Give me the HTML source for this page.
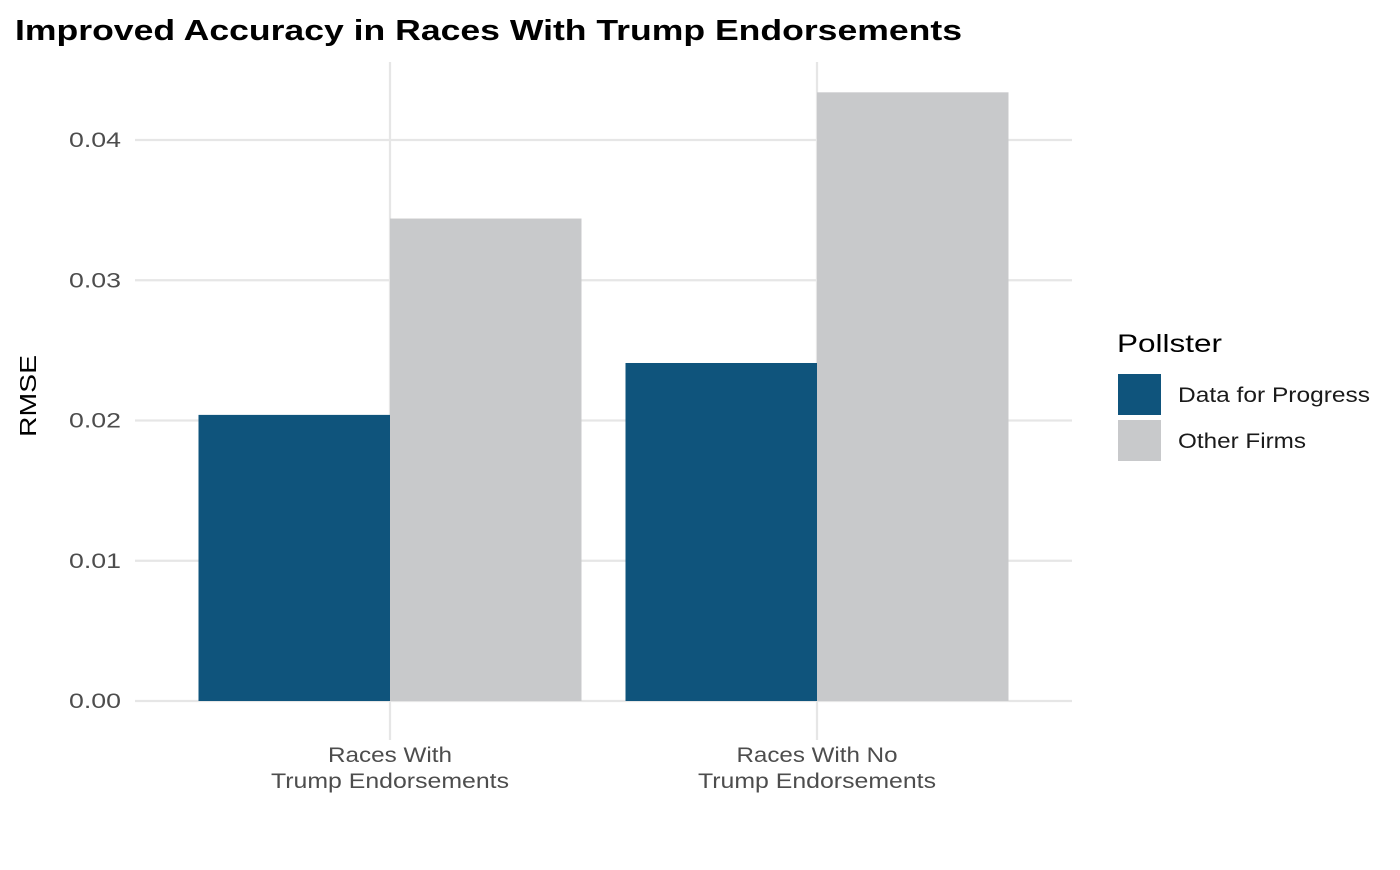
<!DOCTYPE html>
<html><head><meta charset="utf-8"><style>
body{margin:0;background:#fff;font-family:"Liberation Sans",sans-serif;}
</style></head><body>
<svg width="1400" height="865" xmlns="http://www.w3.org/2000/svg" id="svg">
<text x="15" y="40" font-size="29" font-weight="bold" fill="#000" textLength="947" lengthAdjust="spacingAndGlyphs">Improved Accuracy in Races With Trump Endorsements</text>
<g id="grid"></g>
<g id="bars"></g>
<g id="axes"></g>
<text transform="translate(36,396) rotate(-90)" text-anchor="middle" font-size="23" fill="#000" textLength="82" lengthAdjust="spacingAndGlyphs">RMSE</text>
<g>
<text x="1117" y="352" font-size="25" fill="#000" textLength="105" lengthAdjust="spacingAndGlyphs">Pollster</text>
<rect x="1118" y="374" width="43" height="41" fill="#0f547c"/>
<text x="1178" y="402" font-size="21" fill="#1a1a1a" textLength="192" lengthAdjust="spacingAndGlyphs">Data for Progress</text>
<rect x="1118" y="420" width="43" height="41" fill="#c8c9cb"/>
<text x="1178" y="448" font-size="21" fill="#1a1a1a" textLength="128" lengthAdjust="spacingAndGlyphs">Other Firms</text>
</g>
</svg>
<script>
const categories = [["Races With","Trump Endorsements"],["Races With No","Trump Endorsements"]];
const dfpValues = [0.0204, 0.0241];
const otherValues = [0.0344, 0.0434];
const yTicks = [0, 0.01, 0.02, 0.03, 0.04];
const yTickLabels = ["0.00","0.01","0.02","0.03","0.04"];
const NS="http://www.w3.org/2000/svg";
const x0=135,x1=1072,yTop=62,yBot=740;
const y=v=>701-v*14025;
const xc=i=>390+i*427;
const bw=191.5;
const grid=document.getElementById('grid'),bars=document.getElementById('bars'),axes=document.getElementById('axes');
function mk(tag,attrs,parent){const e=document.createElementNS(NS,tag);for(const k in attrs)e.setAttribute(k,attrs[k]);parent.appendChild(e);return e;}
function tl(s){return Math.round(s.length*(s.length>14?13.2:12.4));}
yTicks.forEach((t,i)=>{
  const l=mk('line',{x1:x0,x2:x1,y1:y(t),y2:y(t),stroke:'#e6e6e6','stroke-width':2.2},grid);
  
  
  const tx=mk('text',{x:121,y:y(t)+7,'text-anchor':'end','font-size':21,fill:'#4d4d4d',textLength:52,lengthAdjust:'spacingAndGlyphs'},axes);
  tx.textContent=yTickLabels[i];
  
  
});
categories.forEach((c,i)=>{
  const l=mk('line',{x1:xc(i),x2:xc(i),y1:yTop,y2:yBot,stroke:'#e6e6e6','stroke-width':2.2},grid);
  
  
  const b1=mk('rect',{x:xc(i)-bw,y:y(dfpValues[i]),width:bw,height:y(0)-y(dfpValues[i]),fill:'#0f547c'},bars);
  
  
  const b2=mk('rect',{x:xc(i),y:y(otherValues[i]),width:bw,height:y(0)-y(otherValues[i]),fill:'#c8c9cb'},bars);
  
  
  c.forEach((line,j)=>{
    const t=mk('text',{x:xc(i),y:762+j*26,'text-anchor':'middle','font-size':21,fill:'#4d4d4d',textLength:tl(line),lengthAdjust:'spacingAndGlyphs'},axes);
    t.textContent=line;
    
    
  });
});
</script>
</body></html>
